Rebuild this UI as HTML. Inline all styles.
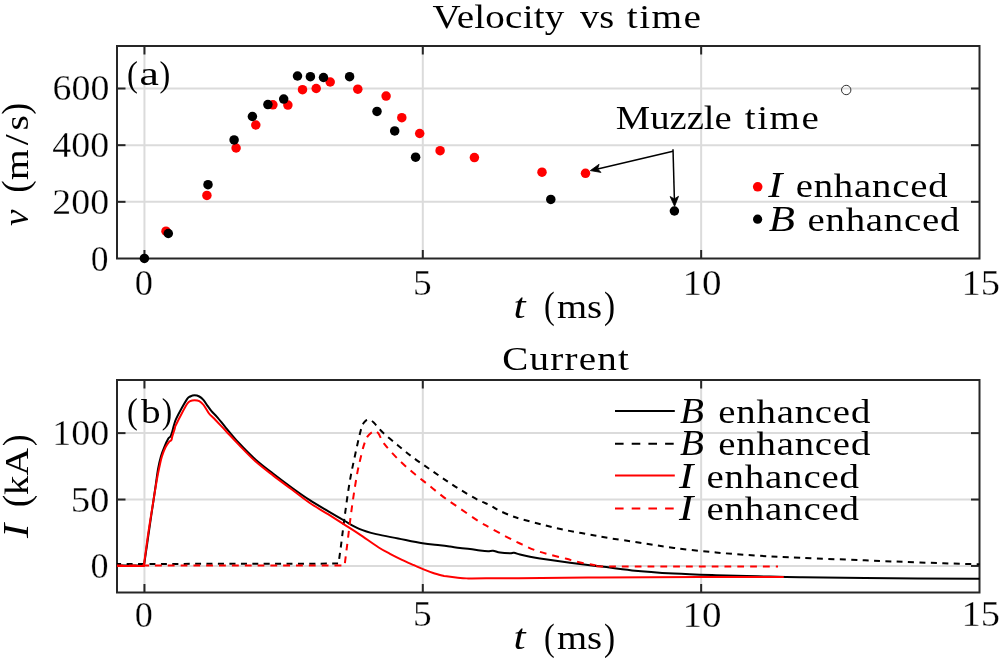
<!DOCTYPE html>
<html><head><meta charset="utf-8"><title>Velocity vs time / Current</title>
<style>html,body{margin:0;padding:0;background:#fff;}svg{display:block;will-change:transform;}</style></head>
<body><svg width="1000" height="658" viewBox="0 0 1000 658" font-family="'Liberation Serif', serif" xml:space="preserve">
<rect width="1000" height="658" fill="#fff"/>
<g stroke="#dbdbdb" stroke-width="2" fill="none">
<line x1="144.45" y1="46.00" x2="144.45" y2="258.50"/>
<line x1="422.80" y1="46.00" x2="422.80" y2="258.50"/>
<line x1="701.15" y1="46.00" x2="701.15" y2="258.50"/>
<line x1="117.00" y1="201.83" x2="979.50" y2="201.83"/>
<line x1="117.00" y1="145.17" x2="979.50" y2="145.17"/>
<line x1="117.00" y1="88.50" x2="979.50" y2="88.50"/>
<line x1="144.45" y1="380.00" x2="144.45" y2="592.50"/>
<line x1="422.80" y1="380.00" x2="422.80" y2="592.50"/>
<line x1="701.15" y1="380.00" x2="701.15" y2="592.50"/>
<line x1="117.00" y1="565.94" x2="979.50" y2="565.94"/>
<line x1="117.00" y1="499.53" x2="979.50" y2="499.53"/>
<line x1="117.00" y1="433.12" x2="979.50" y2="433.12"/>
</g>
<g stroke="#262626" stroke-width="2" fill="none" stroke-linecap="butt"><rect x="117.00" y="46.00" width="862.50" height="212.50"/><line x1="144.45" y1="258.50" x2="144.45" y2="250.00"/><line x1="144.45" y1="46.00" x2="144.45" y2="54.50"/><line x1="422.80" y1="258.50" x2="422.80" y2="250.00"/><line x1="422.80" y1="46.00" x2="422.80" y2="54.50"/><line x1="701.15" y1="258.50" x2="701.15" y2="250.00"/><line x1="701.15" y1="46.00" x2="701.15" y2="54.50"/><line x1="117.00" y1="201.83" x2="125.50" y2="201.83"/><line x1="979.50" y1="201.83" x2="971.00" y2="201.83"/><line x1="117.00" y1="145.17" x2="125.50" y2="145.17"/><line x1="979.50" y1="145.17" x2="971.00" y2="145.17"/><line x1="117.00" y1="88.50" x2="125.50" y2="88.50"/><line x1="979.50" y1="88.50" x2="971.00" y2="88.50"/></g>
<g stroke="#262626" stroke-width="2" fill="none" stroke-linecap="butt"><rect x="117.00" y="380.00" width="862.50" height="212.50"/><line x1="144.45" y1="592.50" x2="144.45" y2="584.00"/><line x1="144.45" y1="380.00" x2="144.45" y2="388.50"/><line x1="422.80" y1="592.50" x2="422.80" y2="584.00"/><line x1="422.80" y1="380.00" x2="422.80" y2="388.50"/><line x1="701.15" y1="592.50" x2="701.15" y2="584.00"/><line x1="701.15" y1="380.00" x2="701.15" y2="388.50"/><line x1="117.00" y1="565.94" x2="125.50" y2="565.94"/><line x1="979.50" y1="565.94" x2="971.00" y2="565.94"/><line x1="117.00" y1="499.53" x2="125.50" y2="499.53"/><line x1="979.50" y1="499.53" x2="971.00" y2="499.53"/><line x1="117.00" y1="433.12" x2="125.50" y2="433.12"/><line x1="979.50" y1="433.12" x2="971.00" y2="433.12"/></g>
<g fill="#ff0000"><circle cx="166.0" cy="231.2" r="4.75"/><circle cx="206.9" cy="195.4" r="4.75"/><circle cx="236.1" cy="148.0" r="4.75"/><circle cx="255.8" cy="125.0" r="4.75"/><circle cx="272.9" cy="104.8" r="4.75"/><circle cx="287.9" cy="105.1" r="4.75"/><circle cx="302.5" cy="89.7" r="4.75"/><circle cx="316.2" cy="88.5" r="4.75"/><circle cx="330.2" cy="82.0" r="4.75"/><circle cx="357.8" cy="89.2" r="4.75"/><circle cx="386.1" cy="96.1" r="4.75"/><circle cx="401.8" cy="117.7" r="4.75"/><circle cx="419.7" cy="133.5" r="4.75"/><circle cx="440.1" cy="150.7" r="4.75"/><circle cx="474.4" cy="157.6" r="4.75"/><circle cx="542.0" cy="172.2" r="4.75"/><circle cx="585.5" cy="173.3" r="4.75"/></g>
<g fill="#000"><circle cx="144.4" cy="258.4" r="4.75"/><circle cx="168.3" cy="233.5" r="4.75"/><circle cx="208.0" cy="184.7" r="4.75"/><circle cx="234.1" cy="139.9" r="4.75"/><circle cx="252.4" cy="116.5" r="4.75"/><circle cx="267.9" cy="104.6" r="4.75"/><circle cx="283.7" cy="99.1" r="4.75"/><circle cx="297.5" cy="76.0" r="4.75"/><circle cx="310.4" cy="76.7" r="4.75"/><circle cx="323.5" cy="77.5" r="4.75"/><circle cx="349.6" cy="76.7" r="4.75"/><circle cx="377.0" cy="111.4" r="4.75"/><circle cx="394.7" cy="130.9" r="4.75"/><circle cx="415.6" cy="157.2" r="4.75"/><circle cx="550.8" cy="199.4" r="4.75"/><circle cx="674.4" cy="211.0" r="4.75"/></g>
<circle cx="846.2" cy="90.0" r="4.7" fill="none" stroke="#333" stroke-width="1.0"/>
<line x1="673.00" y1="151.30" x2="597.60" y2="168.90" stroke="#000" stroke-width="1.5"/><path d="M590.30 170.60 L599.08 164.24 L597.60 168.90 L600.99 172.42 Z" fill="#000" stroke="#000" stroke-width="0.8" stroke-linejoin="miter"/>
<line x1="673.00" y1="149.30" x2="674.39" y2="198.90" stroke="#000" stroke-width="1.5"/><path d="M674.60 206.40 L670.12 196.52 L674.39 198.90 L678.52 196.29 Z" fill="#000" stroke="#000" stroke-width="0.8" stroke-linejoin="miter"/>
<path d="M117.00 565.50 C121.50 565.50 139.50 565.50 144.00 565.50 C144.50 562.08 146.00 551.92 147.00 545.00 C148.00 538.08 148.92 531.42 150.00 524.00 C151.08 516.58 152.50 507.33 153.50 500.50 C154.50 493.67 155.22 488.37 156.00 483.00 C156.78 477.63 157.38 472.72 158.20 468.30 C159.02 463.88 159.83 460.15 160.90 456.50 C161.97 452.85 163.38 449.35 164.60 446.40 C165.82 443.45 167.22 440.47 168.20 438.80 C169.18 437.13 169.87 437.45 170.50 436.40 C171.13 435.35 171.42 434.40 172.00 432.50 C172.58 430.60 173.33 427.22 174.00 425.00 C174.67 422.78 174.82 421.82 176.00 419.20 C177.18 416.58 179.23 412.68 181.10 409.30 C182.97 405.92 185.68 401.03 187.20 398.90 C188.72 396.77 188.98 397.10 190.20 396.50 C191.42 395.90 192.98 395.30 194.50 395.30 C196.02 395.30 197.78 395.68 199.30 396.50 C200.82 397.32 202.18 398.58 203.60 400.20 C205.02 401.82 206.48 404.38 207.80 406.20 C209.12 408.02 209.87 409.20 211.50 411.10 C213.13 413.00 215.20 414.82 217.60 417.60 C220.00 420.38 222.38 423.60 225.90 427.80 C229.42 432.00 233.83 437.57 238.70 442.80 C243.57 448.03 249.33 454.03 255.10 459.20 C260.87 464.37 267.22 469.08 273.30 473.80 C279.38 478.52 285.52 483.10 291.60 487.50 C297.68 491.90 303.73 496.25 309.80 500.20 C315.87 504.15 322.30 507.82 328.00 511.20 C333.70 514.58 338.80 517.57 344.00 520.50 C349.20 523.43 353.83 526.53 359.20 528.80 C364.57 531.07 369.72 532.48 376.20 534.10 C382.68 535.72 390.38 536.97 398.10 538.50 C405.82 540.03 415.52 542.18 422.50 543.30 C429.48 544.42 435.42 544.67 440.00 545.20 C444.58 545.73 446.67 546.03 450.00 546.50 C453.33 546.97 456.67 547.58 460.00 548.00 C463.33 548.42 466.67 548.58 470.00 549.00 C473.33 549.42 477.00 550.13 480.00 550.50 C483.00 550.87 485.83 551.17 488.00 551.20 C490.17 551.23 491.00 550.48 493.00 550.70 C495.00 550.92 497.17 552.08 500.00 552.50 C502.83 552.92 507.67 553.15 510.00 553.20 C512.33 553.25 512.33 552.58 514.00 552.80 C515.67 553.02 517.33 553.83 520.00 554.50 C522.67 555.17 526.67 556.13 530.00 556.80 C533.33 557.47 535.67 557.83 540.00 558.50 C544.33 559.17 548.65 559.78 556.00 560.80 C563.35 561.82 576.77 563.68 584.10 564.60 C591.43 565.52 592.02 565.33 600.00 566.30 C607.98 567.27 619.67 569.20 632.00 570.40 C644.33 571.60 660.00 572.70 674.00 573.50 C688.00 574.30 702.00 574.73 716.00 575.20 C730.00 575.67 744.00 575.95 758.00 576.30 C772.00 576.65 782.17 577.02 800.00 577.30 C817.83 577.58 835.08 577.75 865.00 578.00 C894.92 578.25 960.42 578.67 979.50 578.80" fill="none" stroke="#000" stroke-width="2.00" stroke-linejoin="round"/>
<path d="M117.00 564.00 C153.92 563.93 301.58 563.67 338.50 563.60 C338.90 560.72 339.88 554.07 340.90 546.30 C341.92 538.53 343.17 527.55 344.60 517.00 C346.03 506.45 347.88 492.72 349.50 483.00 C351.12 473.28 352.42 467.50 354.30 458.70 C356.18 449.90 359.08 436.35 360.80 430.20 C362.52 424.05 363.22 423.52 364.60 421.80 C365.98 420.08 367.58 419.77 369.10 419.90 C370.62 420.03 371.42 420.50 373.70 422.60 C375.98 424.70 378.75 428.70 382.80 432.50 C386.85 436.30 392.93 441.22 398.00 445.40 C403.07 449.58 408.13 453.80 413.20 457.60 C418.27 461.40 423.33 464.67 428.40 468.20 C433.47 471.73 438.33 475.25 443.60 478.80 C448.87 482.35 454.20 485.95 460.00 489.50 C465.80 493.05 473.40 497.48 478.40 500.10 C483.40 502.72 486.57 503.47 490.00 505.20 C493.43 506.93 495.50 508.75 499.00 510.50 C502.50 512.25 507.50 514.33 511.00 515.70 C514.50 517.07 514.75 517.20 520.00 518.70 C525.25 520.20 535.00 522.82 542.50 524.70 C550.00 526.58 557.50 528.42 565.00 530.00 C572.50 531.58 580.00 532.83 587.50 534.20 C595.00 535.57 601.25 536.78 610.00 538.20 C618.75 539.62 629.33 541.08 640.00 542.70 C650.67 544.32 661.33 546.27 674.00 547.90 C686.67 549.53 702.00 551.20 716.00 552.50 C730.00 553.80 744.00 554.82 758.00 555.70 C772.00 556.58 782.17 557.03 800.00 557.80 C817.83 558.57 845.00 559.52 865.00 560.30 C885.00 561.08 900.92 561.83 920.00 562.50 C939.08 563.17 969.58 564.00 979.50 564.30" fill="none" stroke="#000" stroke-width="2.00" stroke-linejoin="round" stroke-dasharray="6 5.4" stroke-dashoffset="1.60"/>
<path d="M117.00 566.00 C121.47 566.00 139.33 566.00 143.80 566.00 C144.50 560.83 146.97 542.33 148.00 535.00 C149.03 527.67 149.08 527.82 150.00 522.00 C150.92 516.18 152.37 507.10 153.50 500.10 C154.63 493.10 155.87 485.30 156.80 480.00 C157.73 474.70 158.25 472.22 159.10 468.30 C159.95 464.38 160.83 460.00 161.90 456.50 C162.97 453.00 164.30 449.73 165.50 447.30 C166.70 444.87 168.12 443.10 169.10 441.90 C170.08 440.70 170.87 441.02 171.40 440.10 C171.93 439.18 171.77 438.23 172.30 436.40 C172.83 434.57 174.05 430.88 174.60 429.10 C175.15 427.32 174.52 428.10 175.60 425.70 C176.68 423.30 179.17 418.35 181.10 414.70 C183.03 411.05 185.68 406.07 187.20 403.80 C188.72 401.53 188.98 401.70 190.20 401.10 C191.42 400.50 192.98 400.20 194.50 400.20 C196.02 400.20 197.78 400.30 199.30 401.10 C200.82 401.90 201.98 402.93 203.60 405.00 C205.22 407.07 207.48 411.47 209.00 413.50 C210.52 415.53 211.70 416.20 212.70 417.20 C213.70 418.20 212.80 417.20 215.00 419.50 C217.20 421.80 221.95 426.82 225.90 431.00 C229.85 435.18 233.83 439.60 238.70 444.60 C243.57 449.60 249.33 455.83 255.10 461.00 C260.87 466.17 267.22 470.88 273.30 475.60 C279.38 480.32 285.52 484.73 291.60 489.30 C297.68 493.87 303.73 498.85 309.80 503.00 C315.87 507.15 322.23 510.60 328.00 514.20 C333.77 517.80 339.20 521.28 344.40 524.60 C349.60 527.92 353.48 530.28 359.20 534.10 C364.92 537.92 373.57 544.22 378.70 547.50 C383.83 550.78 386.12 551.75 390.00 553.80 C393.88 555.85 398.00 557.90 402.00 559.80 C406.00 561.70 410.40 563.60 414.00 565.20 C417.60 566.80 420.40 568.10 423.60 569.40 C426.80 570.70 429.80 571.90 433.20 573.00 C436.60 574.10 442.20 575.50 444.00 576.00 C446.00 576.23 451.80 576.97 456.00 577.40 C460.20 577.83 467.00 578.40 469.20 578.60 C472.00 578.53 477.78 578.27 486.00 578.20 C494.22 578.13 499.50 578.33 518.50 578.20 C537.50 578.07 569.75 577.60 600.00 577.40 C630.25 577.20 669.38 577.08 700.00 577.00 C730.62 576.92 769.79 576.92 783.75 576.90" fill="none" stroke="#ff0000" stroke-width="2.00" stroke-linejoin="round"/>
<path d="M117.00 565.50 C154.93 565.50 306.67 565.50 344.60 565.50 C345.00 562.30 345.78 556.00 347.00 546.30 C348.22 536.60 350.27 519.07 351.90 507.30 C353.53 495.53 355.45 483.48 356.80 475.70 C358.15 467.92 358.83 465.65 360.00 460.60 C361.17 455.55 362.53 449.45 363.80 445.40 C365.07 441.35 365.95 438.63 367.60 436.30 C369.25 433.97 371.93 431.92 373.70 431.40 C375.47 430.88 376.43 431.12 378.20 433.20 C379.97 435.28 381.00 439.58 384.30 443.90 C387.60 448.22 393.18 454.28 398.00 459.10 C402.82 463.92 408.13 468.50 413.20 472.80 C418.27 477.10 423.33 480.85 428.40 484.90 C433.47 488.95 438.33 493.17 443.60 497.10 C448.87 501.03 454.20 504.50 460.00 508.50 C465.80 512.50 473.40 517.90 478.40 521.10 C483.40 524.30 485.57 525.22 490.00 527.70 C494.43 530.18 500.00 533.37 505.00 536.00 C510.00 538.63 515.00 541.13 520.00 543.50 C525.00 545.87 530.00 548.33 535.00 550.20 C540.00 552.07 544.75 553.27 550.00 554.70 C555.25 556.13 562.00 557.62 566.50 558.80 C571.00 559.98 572.23 560.73 577.00 561.80 C581.77 562.87 589.60 564.42 595.10 565.20 C600.60 565.98 579.52 566.28 610.00 566.50 C640.48 566.72 750.00 566.50 778.00 566.50" fill="none" stroke="#ff0000" stroke-width="2.00" stroke-linejoin="round" stroke-dasharray="6.8 6" stroke-dashoffset="0.30"/>
<circle cx="757.7" cy="186.8" r="4.8" fill="#ff0000"/>
<circle cx="757.6" cy="219.2" r="4.6" fill="#000"/>
<line x1="615" y1="411.0" x2="674.8" y2="411.0" stroke="#000" stroke-width="2"/>
<line x1="615" y1="443.7" x2="674.8" y2="443.7" stroke="#000" stroke-width="2" stroke-dasharray="8.6 8.1"/>
<line x1="615" y1="475.6" x2="674.8" y2="475.6" stroke="#ff0000" stroke-width="2"/>
<line x1="615" y1="508.6" x2="674.8" y2="508.6" stroke="#ff0000" stroke-width="2" stroke-dasharray="8.6 8.1"/>
<g fill="#000">
<text transform="translate(432.60,28.30) scale(1.1838,1.0000)" font-size="33" letter-spacing="0.194"><tspan>Velocity</tspan></text>
<text transform="translate(580.00,28.30) scale(1.1607,1.0000)" font-size="33"><tspan>vs</tspan></text>
<text transform="translate(626.81,28.30) scale(1.1917,1.0000)" font-size="33" letter-spacing="1.198"><tspan>time</tspan></text>
<text transform="translate(52.53,100.30) scale(1.0667,1.0000)" font-size="35.5" stroke="#fff" stroke-width="0.30" stroke-opacity="0.9"><tspan>600</tspan></text>
<text transform="translate(52.33,156.60) scale(1.0667,1.0000)" font-size="35.5" stroke="#fff" stroke-width="0.30" stroke-opacity="0.9"><tspan>400</tspan></text>
<text transform="translate(52.34,214.00) scale(1.0647,1.0000)" font-size="35.5" stroke="#fff" stroke-width="0.30" stroke-opacity="0.9"><tspan>200</tspan></text>
<text transform="translate(90.70,270.70) scale(1.0000,1.0000)" font-size="35.5" stroke="#fff" stroke-width="0.30" stroke-opacity="0.9"><tspan>0</tspan></text>
<text transform="translate(134.67,295.00) scale(1.0250,1.0000)" font-size="35.5" stroke="#fff" stroke-width="0.30" stroke-opacity="0.9"><tspan>0</tspan></text>
<text transform="translate(412.99,294.60) scale(1.0533,1.0000)" font-size="35.5" stroke="#fff" stroke-width="0.30" stroke-opacity="0.9"><tspan>5</tspan></text>
<text transform="translate(682.40,294.75) scale(1.1000,1.0000)" font-size="35.5" stroke="#fff" stroke-width="0.30" stroke-opacity="0.9"><tspan>10</tspan></text>
<text transform="translate(961.45,294.60) scale(1.0839,1.0000)" font-size="35.5" stroke="#fff" stroke-width="0.30" stroke-opacity="0.9"><tspan>15</tspan></text>
<text transform="translate(513.61,317.50) scale(1.2444,1.0000)" font-size="35"><tspan font-style="italic">t</tspan></text>
<text transform="translate(544.12,318.46) scale(0.9778,1.1200)" font-size="33"><tspan>(</tspan></text>
<text transform="translate(556.93,317.50) scale(1.1730,1.0000)" font-size="33"><tspan>ms</tspan></text>
<text transform="translate(603.99,318.46) scale(1.0111,1.1200)" font-size="33"><tspan>)</tspan></text>
<text transform="translate(28.20,225.97) rotate(-90) scale(1.0667,1.0000)" font-size="35"><tspan font-style="italic">v</tspan></text>
<text transform="translate(28.19,192.82) rotate(-90) scale(1.1222,1.1300)" font-size="33"><tspan>(</tspan></text>
<text transform="translate(28.20,179.89) rotate(-90) scale(1.1942,1.0000)" font-size="33" letter-spacing="3.314"><tspan>m/s</tspan></text>
<text transform="translate(28.19,114.78) rotate(-90) scale(1.0778,1.1300)" font-size="33"><tspan>)</tspan></text>
<text transform="translate(126.91,86.08) scale(0.9889,1.1033)" font-size="33"><tspan>(</tspan></text>
<text transform="translate(139.58,85.40) scale(1.3231,1.0000)" font-size="33"><tspan>a</tspan></text>
<text transform="translate(159.52,86.08) scale(0.9778,1.1033)" font-size="33"><tspan>)</tspan></text>
<text transform="translate(615.83,129.10) scale(1.1711,1.0000)" font-size="33"><tspan>Muzzle</tspan></text>
<text transform="translate(744.82,129.10) scale(1.1803,1.0000)" font-size="33" letter-spacing="1.339"><tspan>time</tspan></text>
<text transform="translate(768.20,196.50) scale(1.2154,1.0000)" font-size="35"><tspan font-style="italic">I</tspan></text>
<text transform="translate(795.63,196.50) scale(1.1721,1.0000)" font-size="33" letter-spacing="0.734"><tspan>enhanced</tspan></text>
<text transform="translate(768.70,230.80) scale(1.2238,1.0000)" font-size="35"><tspan font-style="italic">B</tspan></text>
<text transform="translate(807.52,230.80) scale(1.1758,1.0000)" font-size="33" letter-spacing="0.649"><tspan>enhanced</tspan></text>
<text transform="translate(502.32,370.00) scale(1.1821,1.0000)" font-size="33" letter-spacing="1.031"><tspan>Current</tspan></text>
<text transform="translate(52.29,445.10) scale(1.0694,1.0000)" font-size="35.5" stroke="#fff" stroke-width="0.30" stroke-opacity="0.9"><tspan>100</tspan></text>
<text transform="translate(70.71,511.80) scale(1.0938,1.0000)" font-size="35.5" stroke="#fff" stroke-width="0.30" stroke-opacity="0.9"><tspan>50</tspan></text>
<text transform="translate(90.48,578.00) scale(1.0187,1.0000)" font-size="35.5" stroke="#fff" stroke-width="0.30" stroke-opacity="0.9"><tspan>0</tspan></text>
<text transform="translate(134.78,626.60) scale(1.0187,1.0000)" font-size="35.5" stroke="#fff" stroke-width="0.30" stroke-opacity="0.9"><tspan>0</tspan></text>
<text transform="translate(412.99,626.40) scale(1.0533,1.0000)" font-size="35.5" stroke="#fff" stroke-width="0.30" stroke-opacity="0.9"><tspan>5</tspan></text>
<text transform="translate(682.40,626.50) scale(1.1000,1.0000)" font-size="35.5" stroke="#fff" stroke-width="0.30" stroke-opacity="0.9"><tspan>10</tspan></text>
<text transform="translate(961.45,626.40) scale(1.0839,1.0000)" font-size="35.5" stroke="#fff" stroke-width="0.30" stroke-opacity="0.9"><tspan>15</tspan></text>
<text transform="translate(513.61,649.30) scale(1.2444,1.0000)" font-size="35"><tspan font-style="italic">t</tspan></text>
<text transform="translate(544.12,650.26) scale(0.9778,1.1200)" font-size="33"><tspan>(</tspan></text>
<text transform="translate(556.93,649.30) scale(1.1730,1.0000)" font-size="33"><tspan>ms</tspan></text>
<text transform="translate(603.99,650.26) scale(1.0111,1.1200)" font-size="33"><tspan>)</tspan></text>
<text transform="translate(28.40,538.10) rotate(-90) scale(1.2231,1.0000)" font-size="35"><tspan font-style="italic">I</tspan></text>
<text transform="translate(28.54,507.14) rotate(-90) scale(1.1444,1.1367)" font-size="33"><tspan>(</tspan></text>
<text transform="translate(28.40,494.97) rotate(-90) scale(1.1692,1.0000)" font-size="33"><tspan>kA</tspan></text>
<text transform="translate(28.54,446.28) rotate(-90) scale(1.0778,1.1367)" font-size="33"><tspan>)</tspan></text>
<text transform="translate(127.02,422.68) scale(0.9778,1.1033)" font-size="33"><tspan>(</tspan></text>
<text transform="translate(140.90,422.80) scale(1.1867,1.0000)" font-size="33"><tspan>b</tspan></text>
<text transform="translate(161.76,422.68) scale(0.9444,1.1033)" font-size="33"><tspan>)</tspan></text>
<text transform="translate(680.10,423.40) scale(1.1190,1.0000)" font-size="35"><tspan font-style="italic">B</tspan></text>
<text transform="translate(718.23,423.40) scale(1.1721,1.0000)" font-size="33" letter-spacing="0.734"><tspan>enhanced</tspan></text>
<text transform="translate(680.10,454.90) scale(1.1190,1.0000)" font-size="35"><tspan font-style="italic">B</tspan></text>
<text transform="translate(718.23,454.90) scale(1.1721,1.0000)" font-size="33" letter-spacing="0.734"><tspan>enhanced</tspan></text>
<text transform="translate(679.00,488.00) scale(1.2308,1.0000)" font-size="35"><tspan font-style="italic">I</tspan></text>
<text transform="translate(706.42,488.00) scale(1.1789,1.0000)" font-size="33" letter-spacing="0.697"><tspan>enhanced</tspan></text>
<text transform="translate(679.00,520.30) scale(1.2308,1.0000)" font-size="35"><tspan font-style="italic">I</tspan></text>
<text transform="translate(706.42,520.30) scale(1.1789,1.0000)" font-size="33" letter-spacing="0.697"><tspan>enhanced</tspan></text>
</g>
</svg></body></html>
